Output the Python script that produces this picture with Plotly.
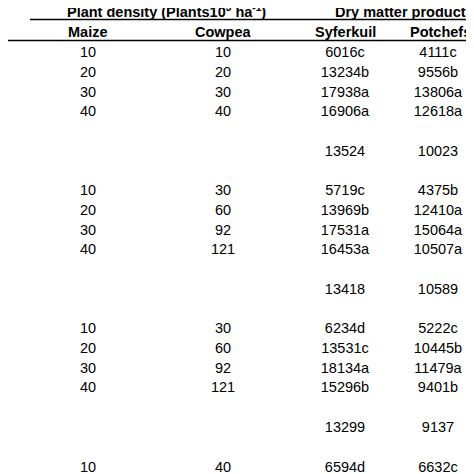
import plotly.graph_objects as go

# ----- Table data -----
maize = ["10", "20", "30", "40", "", "10", "20", "30", "40", "", "10", "20", "30", "40", "", "10"]
cowpea = ["10", "20", "30", "40", "", "30", "60", "92", "121", "", "30", "60", "92", "121", "", "40"]
syferkuil = ["6016c", "13234b", "17938a", "16906a", "13524",
             "5719c", "13969b", "17531a", "16453a", "13418",
             "6234d", "13531c", "18134a", "15296b", "13299", "6594d"]
potchefstroom = ["4111c", "9556b", "13806a", "12618a", "10023",
                 "4375b", "12410a", "15064a", "10507a", "10589",
                 "5222c", "10445b", "11479a", "9401b", "9137", "6632c"]
row_y = [45, 65, 85, 104, 144, 183, 203, 223, 242, 282, 321, 341, 361, 380, 420, 460]

font = dict(family="Liberation Sans, Arial", size=14.5, color="black")

fig = go.Figure()
for xpos, col in [(80, maize), (215, cowpea), (337, syferkuil), (430, potchefstroom)]:
    fig.add_trace(go.Scatter(x=[xpos] * len(col), y=row_y, text=col, mode="text",
                             textfont=font, showlegend=False, hoverinfo="skip",
                             cliponaxis=False))

# ----- Headers -----
bold = dict(family="Liberation Sans, Arial", size=14.5, color="black", weight="bold")
fig.add_annotation(x=158, y=3, text="Plant density (Plants10<sup>3</sup> ha<sup>-1</sup>)",
                   showarrow=False, font=bold)
fig.add_annotation(x=325, y=3, text="Dry matter production (kg ha<sup>-1</sup>)", xanchor="left",
                   showarrow=False, font=bold)
for x, t in [(80, "Maize"), (215, "Cowpea"), (337, "Syferkuil"), (400, "Potchefstroom")]:
    fig.add_annotation(x=x, y=24, text=t, showarrow=False, font=bold,
                       xanchor="left" if t == "Potchefstroom" else "center")

fig.add_shape(type="line", x0=22, x1=480, y0=11.5, y1=11.5, line=dict(color="black", width=1.5))
fig.add_shape(type="line", x0=0, x1=480, y0=32.5, y1=32.5, line=dict(color="black", width=1.5))

fig.update_layout(
    width=474, height=474,
    margin=dict(l=0, r=0, t=0, b=0),
    plot_bgcolor="white", paper_bgcolor="white",
    xaxis=dict(range=[0, 474], visible=False),
    yaxis=dict(range=[474, 0], visible=False),
)

fig.write_html("out.html")
